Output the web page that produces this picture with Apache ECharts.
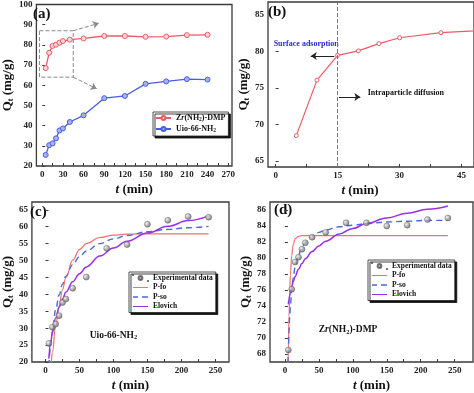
<!DOCTYPE html>
<html><head><meta charset="utf-8">
<script src="https://cdn.jsdelivr.net/npm/echarts@6/dist/echarts.min.js"></script>
<style>html,body{margin:0;padding:0;background:#fff}#c{width:474px;height:393px}</style>
</head><body><div id="c"></div>
<script>
// ---- data ----
const tExp = [5,10,15,20,25,30,40,60,90,120,150,180,210,240];
const qZr  = [68.5,76.1,79.5,80.1,81.1,81.9,82.6,83.2,84.4,84.4,84.0,84.1,84.8,85.0];
const qUio = [25.5,30.3,31.2,33.7,37.6,38.6,41.8,45.1,53.6,54.7,60.7,61.9,63.0,62.8];

const tFitC = [5,8,10,15,20,25,30,40,50,60,80,100,120,150,180,210,240];
const pfoC  = [12.8,19.1,22.8,30.6,36.6,41.3,45.0,50.1,53.2,55.0,56.8,57.5,57.8,57.9,57.9,57.9,57.9];
const psoC  = [18.9,25.7,29.1,35.5,39.8,43.0,45.4,48.8,51.1,52.8,55.0,56.4,57.4,58.5,59.2,59.7,60.1];
const eloC  = [21.0,26.2,28.6,33.0,36.2,38.6,40.6,43.7,46.1,48.1,51.3,53.7,55.7,58.1,60.1,61.8,63.2];

const tFitD = [3,4,5,6,7,8,10,12,15,20,25,30,40,50,60,80,100,120,150,180,210,240];
const pfoD  = [53.9,62.5,68.5,72.7,75.7,77.8,80.3,81.6,82.4,82.7,82.8,82.8,82.8,82.8,82.8,82.8,82.8,82.8,82.8,82.8,82.8,82.8];
const psoD  = [60.6,65.3,68.5,70.8,72.6,73.9,76.0,77.4,78.9,80.4,81.3,82.0,82.8,83.2,83.5,83.9,84.1,84.3,84.5,84.6,84.7,84.7];
const eloD  = [null,null,74.2,74.8,75.3,75.7,76.4,77.0,77.7,78.6,79.3,79.9,80.8,81.5,82.1,83.0,83.7,84.3,85.0,85.6,86.1,86.5];

const ticksA_x = [0,30,60,90,120,150,180,210,240,270];
const ticksA_y = [20,30,40,50,60,70,80,90,100];
const ticksB_x = [0,15,30,45];
const ticksB_y = [65,70,75,80,85];
const ticksC_x = [0,50,100,150,200,250];
const ticksC_y = [20,25,30,35,40,45,50,55,60,65];
const ticksD_x = [0,50,100,150,200,250];
const ticksD_y = [68,70,72,74,76,78,80,82,84,86];

const pairs = (xs, ys) => xs.map((x,i)=>[x,ys[i]]).filter(p=>p[1]!==null);
const minors = (arr) => { const o=[]; for(let i=0;i<arr.length;i++){o.push(arr[i]); if(i<arr.length-1) o.push((arr[i]+arr[i+1])/2);} return o; };

const F = 'Liberation Serif';
const AX = '#3a3a3a';
const chart = echarts.init(document.getElementById('c'), null, {renderer:'canvas'});

function xAx(gi, min, max, labels, nameGap, padR){
  return {type:'value', gridIndex:gi, min, max,
    axisLine:{show:false}, splitLine:{show:false},
    axisTick:{show:true, inside:true, length:3, customValues:minors(labels), lineStyle:{color:AX, width:1}},
    axisLabel:{customValues:labels, margin:4, fontFamily:F, fontWeight:'bold', fontSize:9, color:'#222'},
    name:'{i|t} (min)', nameLocation:'middle', nameGap,
    nameTextStyle:{fontFamily:F, fontWeight:'bold', fontSize:13, color:'#111', padding:[0,padR||0,0,0],
      rich:{i:{fontStyle:'italic', fontFamily:F, fontWeight:'bold', fontSize:13, color:'#111'}}}
  };
}
function yAx(gi, min, max, labels, nameGap){
  return {type:'value', gridIndex:gi, min, max,
    axisLine:{show:false}, splitLine:{show:false},
    axisTick:{show:true, inside:true, length:3, customValues:labels, lineStyle:{color:AX, width:1}},
    axisLabel:{customValues:labels, margin:4, fontFamily:F, fontWeight:'bold', fontSize:9, color:'#222'},
    name:'Q{s|t} (mg/g)', nameLocation:'middle', nameGap,
    nameTextStyle:{fontFamily:F, fontWeight:'bold', fontSize:13, color:'#111',
      rich:{s:{fontFamily:F, fontWeight:'bold', fontSize:8, color:'#111', padding:[7,0,0,0]}}}
  };
}
const gridBase = {show:true, borderColor:AX, borderWidth:1.3, backgroundColor:'transparent', containLabel:false};

const sphere = {type:'radial', x:0.35, y:0.35, r:0.75, colorStops:[{offset:0,color:'#eeeeee'},{offset:1,color:'#4a4a4a'}]};
const RED = '#ee5a66', BLUE = '#4a5ce0', PURP = '#9a2fe6', FRED = '#f07070', FBLUE = '#4a6ad8';

const legendText = {fontFamily:F, fontWeight:'bold', fontSize:7.5, color:'#111', lineHeight:8,
  rich:{n:{fontFamily:F, fontWeight:'bold', fontSize:8, color:'#111'},
        r:{fontFamily:F, fontWeight:'bold', fontStyle:'italic', fontSize:8, color:'#111'},
        s:{fontFamily:F, fontWeight:'bold', fontSize:5.5, color:'#111', padding:[4,0,0,0]}}};
const legendBox = {backgroundColor:'#fff', borderColor:'#222', borderWidth:0.8, shadowColor:'#111', shadowOffsetX:2, shadowOffsetY:2, shadowBlur:0, borderRadius:0};
const ICON_SOLID = 'path://M0,0h0.01v0.01h-0.01z M0,2.4h15v1.2h-15z M15,6h-0.01v-0.01h0.01z';
const ICON_DASH  = 'path://M0,0h0.01v0.01h-0.01z M0,2.3h5v1.4h-5z M9,2.3h6v1.4h-6z M15,6h-0.01v-0.01h0.01z';
const ICON_DOT   = 'path://M0,0h0.01v0.01h-0.01z M5.6,3a1.9,1.9 0 1,0 3.8,0a1.9,1.9 0 1,0 -3.8,0z M15,6h-0.01v-0.01h0.01z';
const fitLegendData = [{name:'Experimental data', icon:ICON_DOT},{name:'P-fo', icon:ICON_SOLID},{name:'P-so', icon:ICON_DASH},{name:'Elovich', icon:ICON_SOLID}];

const option = {
  animation:false,
  grid:[
    Object.assign({left:31, top:3, width:201, height:163}, gridBase),
    Object.assign({left:268, top:2, width:216, height:165}, gridBase),
    Object.assign({left:30, top:202, width:199, height:163}, gridBase),
    Object.assign({left:270, top:202, width:203, height:163}, gridBase)
  ],
  xAxis:[
    xAx(0, -8.5, 275.5, ticksA_x, 17),
    xAx(1, -1.85, 48, ticksB_x, 17, 22),
    xAx(2, -20, 270, ticksC_x, 17),
    xAx(3, -22, 277, ticksD_x, 17)
  ],
  yAxis:[
    yAx(0, 20, 100, ticksA_y, 13),
    yAx(1, 64.2, 86.8, ticksB_y, 13),
    yAx(2, 20, 67.3, ticksC_y, 12),
    yAx(3, 67, 87, ticksD_y, 12)
  ],
  legend:[
    Object.assign({left:153, top:112, orient:'vertical', itemGap:2, itemWidth:15, itemHeight:5, padding:[2,3,2,2],
      data:['Zr(NH2)-DMP','Uio-66-NH2'],
      formatter:(n)=> n==='Zr(NH2)-DMP' ? '{n|Z}{r|r}{n|(NH}{s|2}{n|)-DMP}' : '{n|Uio-66-NH}{s|2}',
      textStyle:legendText}, legendBox),
    Object.assign({left:129, top:272, orient:'vertical', itemGap:1.5, itemWidth:15, itemHeight:6, padding:[2,3,2,3],
      data:fitLegendData, textStyle:legendText}, legendBox),
    Object.assign({left:368, top:260, orient:'vertical', itemGap:1.5, itemWidth:15, itemHeight:6, padding:[2,3,2,3],
      data:fitLegendData, textStyle:legendText}, legendBox)
  ],
  series:[
    {name:'Zr(NH2)-DMP', type:'line', xAxisIndex:0, yAxisIndex:0, data:pairs(tExp,qZr),
     symbol:'circle', symbolSize:5, lineStyle:{color:RED, width:1.3},
     itemStyle:{color:'#fcd4d8', borderColor:RED, borderWidth:1},
     markArea:{silent:true, itemStyle:{color:'rgba(0,0,0,0)', borderColor:'#8a8a8a', borderWidth:1, borderType:'dashed'},
       data:[[{coord:[-4,87]},{coord:[45,64]}]]},
     markLine:{silent:true, symbol:['none','arrow'], symbolSize:6, label:{show:false},
       lineStyle:{color:'#8a8a8a', type:'dashed', width:1},
       data:[[{coord:[45,87]},{coord:[82,90.7]}],[{coord:[45,64]},{coord:[79,58.3]}]]}},
    {name:'Uio-66-NH2', type:'line', xAxisIndex:0, yAxisIndex:0, data:pairs(tExp,qUio),
     symbol:'circle', symbolSize:5, lineStyle:{color:BLUE, width:1.3},
     itemStyle:{color:'#a8b2f2', borderColor:BLUE, borderWidth:1}},
    {name:'b', type:'line', xAxisIndex:1, yAxisIndex:1, data:pairs(tExp,qZr), clip:true,
     symbol:'circle', symbolSize:4, lineStyle:{color:RED, width:1.2},
     itemStyle:{color:'#fff', borderColor:RED, borderWidth:1},
     markLine:{silent:true, label:{show:false}, symbolSize:6,
       data:[
         [{coord:[15,64.2], symbol:'none', lineStyle:{color:'#777', type:'dashed', width:1}},{coord:[15,86.8], symbol:'none'}],
         [{coord:[14.2,79.4], symbol:'none', lineStyle:{color:'#222', type:'solid', width:1}},{coord:[8.5,79.4], symbol:'arrow'}],
         [{coord:[15.3,73.8], symbol:'none', lineStyle:{color:'#222', type:'solid', width:1}},{coord:[20.5,73.8], symbol:'arrow'}]
       ]}},
    {name:'Experimental data', type:'scatter', xAxisIndex:2, yAxisIndex:2, data:pairs(tExp,qUio),
     symbol:'circle', symbolSize:6, itemStyle:{color:sphere, borderColor:'#555', borderWidth:0.5}, z:5},
    {name:'P-fo', type:'line', xAxisIndex:2, yAxisIndex:2, data:pairs(tFitC,pfoC), symbol:'none', smooth:0.4, smoothMonotone:'x',
     lineStyle:{color:FRED, width:1.2}, itemStyle:{color:FRED}},
    {name:'P-so', type:'line', xAxisIndex:2, yAxisIndex:2, data:pairs(tFitC,psoC), symbol:'none', smooth:0.4, smoothMonotone:'x',
     lineStyle:{color:FBLUE, width:1.4, type:[6,4]}, itemStyle:{color:FBLUE}},
    {name:'Elovich', type:'line', xAxisIndex:2, yAxisIndex:2, data:pairs(tFitC,eloC), symbol:'none', smooth:0.4, smoothMonotone:'x',
     lineStyle:{color:PURP, width:1.5}, itemStyle:{color:PURP}},
    {name:'Experimental data', type:'scatter', xAxisIndex:3, yAxisIndex:3, data:pairs(tExp,qZr),
     symbol:'circle', symbolSize:6, itemStyle:{color:sphere, borderColor:'#555', borderWidth:0.5}, z:5},
    {name:'P-fo', type:'line', xAxisIndex:3, yAxisIndex:3, data:pairs(tFitD,pfoD), symbol:'none', smooth:0.4, smoothMonotone:'x',
     lineStyle:{color:FRED, width:1.2}, itemStyle:{color:FRED}},
    {name:'P-so', type:'line', xAxisIndex:3, yAxisIndex:3, data:pairs(tFitD,psoD), symbol:'none', smooth:0.4, smoothMonotone:'x',
     lineStyle:{color:FBLUE, width:1.4, type:[6,4]}, itemStyle:{color:FBLUE}},
    {name:'Elovich', type:'line', xAxisIndex:3, yAxisIndex:3, data:pairs(tFitD,eloD), symbol:'none', smooth:0.4, smoothMonotone:'x',
     lineStyle:{color:PURP, width:1.5}, itemStyle:{color:PURP}}
  ]
};
chart.setOption(option);

const px = (g, x, y) => chart.convertToPixel({gridIndex:g}, [x,y]);
const lab = (text, x, y) => ({type:'text', x, y, style:{text, fontFamily:F, fontWeight:'bold', fontSize:15, fill:'#111', align:'left', verticalAlign:'middle'}});
const pSA = px(1, 7.4, 81.0), pID = px(1, 31.5, 74.3), pU = px(2, 100, 27.8), pZ = px(3, 93, 71.0);
chart.setOption({graphic:[
  lab('(a)', 33, 14), lab('(b)', 268, 12), lab('(c)', 30, 212), lab('(d)', 274, 210),
  {type:'text', x:pSA[0], y:pSA[1], style:{text:'Surface adsorption', fontFamily:F, fontWeight:'bold', fontSize:8, fill:'#2b2bd0', align:'center', verticalAlign:'middle'}},
  {type:'text', x:pID[0], y:pID[1], style:{text:'Intraparticle diffusion', fontFamily:F, fontWeight:'bold', fontSize:8, fill:'#111', align:'center', verticalAlign:'middle'}},
  {type:'text', x:pU[0], y:pU[1], style:{text:'{n|Uio-66-NH}{s|2}', align:'center', verticalAlign:'middle',
     rich:{n:{fontFamily:F, fontWeight:'bold', fontSize:9.5, fill:'#111'}, s:{fontFamily:F, fontWeight:'bold', fontSize:6.5, fill:'#111', padding:[4,0,0,0]}}}},
  {type:'text', x:pZ[0], y:pZ[1], style:{text:'{n|Z}{r|r}{n|(NH}{s|2}{n|)-DMP}', align:'center', verticalAlign:'middle',
     rich:{n:{fontFamily:F, fontWeight:'bold', fontSize:9.5, fill:'#111'}, r:{fontFamily:F, fontWeight:'bold', fontStyle:'italic', fontSize:9.5, fill:'#111'}, s:{fontFamily:F, fontWeight:'bold', fontSize:6.5, fill:'#111', padding:[4,0,0,0]}}}}
]});
</script></body></html>
